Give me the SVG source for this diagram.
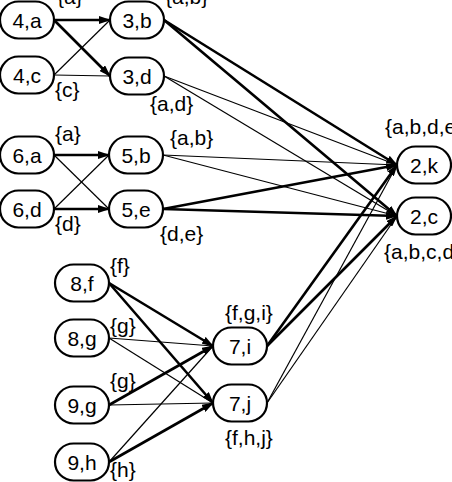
<svg xmlns="http://www.w3.org/2000/svg" width="452" height="482" viewBox="0 0 452 482">
<style>
.n rect{fill:#fff;stroke:#000;stroke-width:2.2}
text{font-family:"Liberation Sans",Arial,sans-serif;font-size:21px;fill:#000}
.n text{text-anchor:middle}
.thick{stroke:#000;stroke-width:2.6;fill:none;marker-end:url(#ah)}
.thin{stroke:#000;stroke-width:1.2;fill:none}
</style>
<defs>
<marker id="ah" markerWidth="12" markerHeight="8" refX="11" refY="4" orient="auto" markerUnits="userSpaceOnUse">
<path d="M0,0 L12,4 L0,8 Z" fill="#000"/>
</marker>
</defs>
<rect width="452" height="482" fill="#fff"/>
<g id="connectors">
<line class="thick" x1="54" y1="20" x2="110" y2="20"/>
<line class="thick" x1="54" y1="20" x2="110" y2="76"/>
<line class="thin" x1="54" y1="75" x2="110" y2="20"/>
<line class="thin" x1="54" y1="75" x2="110" y2="76"/>
<line class="thick" x1="54" y1="155" x2="109" y2="155"/>
<line class="thin" x1="54" y1="155" x2="109" y2="209"/>
<line class="thin" x1="54" y1="209" x2="109" y2="155"/>
<line class="thick" x1="54" y1="209" x2="109" y2="209"/>
<line class="thick" x1="164" y1="20" x2="397" y2="165"/>
<line class="thick" x1="164" y1="20" x2="397" y2="216"/>
<line class="thin" x1="164" y1="76" x2="397" y2="165"/>
<line class="thin" x1="164" y1="76" x2="397" y2="216"/>
<line class="thin" x1="163" y1="155" x2="397" y2="165"/>
<line class="thin" x1="163" y1="155" x2="397" y2="216"/>
<line class="thick" x1="163" y1="209" x2="397" y2="165"/>
<line class="thick" x1="163" y1="209" x2="397" y2="216"/>
<line class="thick" x1="267" y1="346" x2="397" y2="165"/>
<line class="thick" x1="267" y1="346" x2="397" y2="216"/>
<line class="thin" x1="267" y1="403" x2="397" y2="165"/>
<line class="thin" x1="267" y1="403" x2="397" y2="216"/>
<line class="thick" x1="109" y1="283" x2="213" y2="346"/>
<line class="thick" x1="109" y1="283" x2="213" y2="403"/>
<line class="thin" x1="109" y1="338" x2="213" y2="346"/>
<line class="thin" x1="109" y1="338" x2="213" y2="403"/>
<line class="thick" x1="109" y1="405" x2="213" y2="346"/>
<line class="thin" x1="109" y1="405" x2="213" y2="403"/>
<line class="thin" x1="109" y1="462" x2="213" y2="346"/>
<line class="thick" x1="109" y1="462" x2="213" y2="403"/>
</g>
<g id="n4a" class="n"><rect x="0" y="1.5" width="54" height="37" rx="18.5"/><text x="27" y="27.5">4,a</text></g>
<g id="n4c" class="n"><rect x="0" y="56.5" width="54" height="37" rx="18.5"/><text x="27" y="82.5">4,c</text></g>
<g id="n3b" class="n"><rect x="110" y="1.5" width="54" height="37" rx="18.5"/><text x="137" y="27.5">3,b</text></g>
<g id="n3d" class="n"><rect x="110" y="57.5" width="54" height="37" rx="18.5"/><text x="137" y="83.5">3,d</text></g>
<g id="n6a" class="n"><rect x="0" y="136.5" width="54" height="37" rx="18.5"/><text x="27" y="162.5">6,a</text></g>
<g id="n6d" class="n"><rect x="0" y="190.5" width="54" height="37" rx="18.5"/><text x="27" y="216.5">6,d</text></g>
<g id="n5b" class="n"><rect x="109" y="136.5" width="54" height="37" rx="18.5"/><text x="136" y="162.5">5,b</text></g>
<g id="n5e" class="n"><rect x="109" y="190.5" width="54" height="37" rx="18.5"/><text x="136" y="216.5">5,e</text></g>
<g id="n8f" class="n"><rect x="55" y="264.5" width="54" height="37" rx="18.5"/><text x="82" y="290.5">8,f</text></g>
<g id="n8g" class="n"><rect x="55" y="319.5" width="54" height="37" rx="18.5"/><text x="82" y="345.5">8,g</text></g>
<g id="n9g" class="n"><rect x="55" y="386.5" width="54" height="37" rx="18.5"/><text x="82" y="412.5">9,g</text></g>
<g id="n9h" class="n"><rect x="55" y="443.5" width="54" height="37" rx="18.5"/><text x="82" y="469.5">9,h</text></g>
<g id="n7i" class="n"><rect x="213" y="327.5" width="54" height="37" rx="18.5"/><text x="240" y="353.5">7,i</text></g>
<g id="n7j" class="n"><rect x="213" y="384.5" width="54" height="37" rx="18.5"/><text x="240" y="410.5">7,j</text></g>
<g id="n2k" class="n"><rect x="397" y="146.5" width="54" height="37" rx="18.5"/><text x="424" y="172.5">2,k</text></g>
<g id="n2c" class="n"><rect x="397" y="197.5" width="54" height="37" rx="18.5"/><text x="424" y="223.5">2,c</text></g>
<g id="labels">
<text x="57" y="4">{a}</text>
<text x="165" y="4">{a,b}</text>
<text x="55" y="97">{c}</text>
<text x="150" y="111">{a,d}</text>
<text x="55" y="141">{a}</text>
<text x="170" y="145">{a,b}</text>
<text x="55" y="231">{d}</text>
<text x="160" y="241">{d,e}</text>
<text x="385" y="134">{a,b,d,e</text>
<text x="384" y="259">{a,b,c,d</text>
<text x="110" y="273">{f}</text>
<text x="110" y="333">{g}</text>
<text x="110" y="388">{g}</text>
<text x="110" y="477">{h}</text>
<text x="225" y="320">{f,g,i}</text>
<text x="225" y="445">{f,h,j}</text>
</g>
</svg>
